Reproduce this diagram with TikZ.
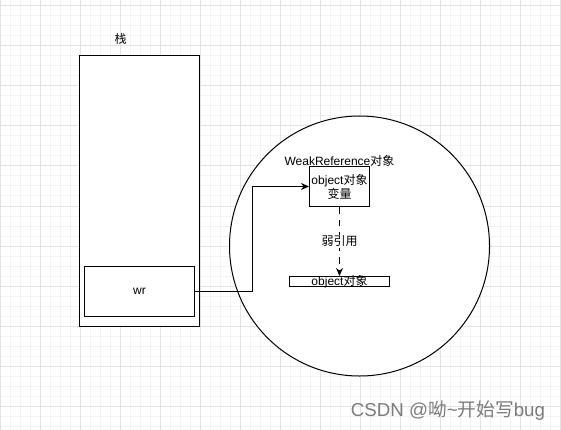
\documentclass[tikz,border=0pt]{standalone}
\usepackage{fontspec}
\setmainfont{Liberation Sans}
\newfontfamily\cjk{Noto Sans CJK SC}
\usetikzlibrary{arrows.meta}
\definecolor{gridminor}{HTML}{F3F3F3}
\definecolor{gridmajor}{HTML}{E3E3E3}
\definecolor{wm}{HTML}{7C7C7C}
\begin{document}
\begin{tikzpicture}[x=1pt,y=-1pt,
  every node/.style={font=\fontsize{12}{14}\selectfont},
  box/.style={draw,fill=white,line width=1pt,inner sep=0pt},
  conn/.style={draw,line width=1pt,-{Stealth[length=8pt,width=7pt]}},
  dconn/.style={conn,dash pattern=on 6.5pt off 6pt}]
\useasboundingbox (0,0) rectangle (561,430);
\fill[white] (0,0) rectangle (561,430);
% grid
\foreach \x in {0,10,...,560} \draw[gridminor,line width=1pt] (\x,0) -- (\x,430);
\foreach \y in {6,16,...,426} \draw[gridminor,line width=1pt] (0,\y) -- (561,\y);
\foreach \x in {0,40,...,560} \draw[gridmajor,line width=1pt] (\x,0) -- (\x,430);
\foreach \y in {6,46,...,406} \draw[gridmajor,line width=1pt] (0,\y) -- (561,\y);
% stack
\node (stacklabel) at (120.5,38.5) {\cjk 栈};
\node[box,minimum width=120,minimum height=270] (stack) at (139.5,191) {};
\node[box,minimum width=110,minimum height=50] (wr) at (139.5,291) {wr};
% heap circle
\node[box,circle,minimum size=260] (heap) at (359.5,246) {};
\node (wrlabel) at (339.5,160.5) {WeakReference{\cjk 对象}};
\node[box,minimum width=60,minimum height=40,align=center] (var) at (339.5,186.5) {object{\cjk 对象}\\{\cjk 变量}};
\node[box,minimum width=100,minimum height=9.5] (obj) at (339.5,281.25) {};
\node (objlabel) at (obj.center) {object{\cjk 对象}};
% connectors
\draw[conn] (wr.east) -- ++(57.5,0) |- (var.west);
\draw[dconn] (var.south) -- node[fill=white,inner sep=1.5pt] (weak) {\cjk 弱引用} (obj.north);
% watermark
\node[text=wm,font=\fontsize{18.7}{20}\selectfont] (watermark) at (448,410.5) {CSDN @{\cjk 呦}\textasciitilde{\cjk 开始写}bug};
\end{tikzpicture}
\end{document}
